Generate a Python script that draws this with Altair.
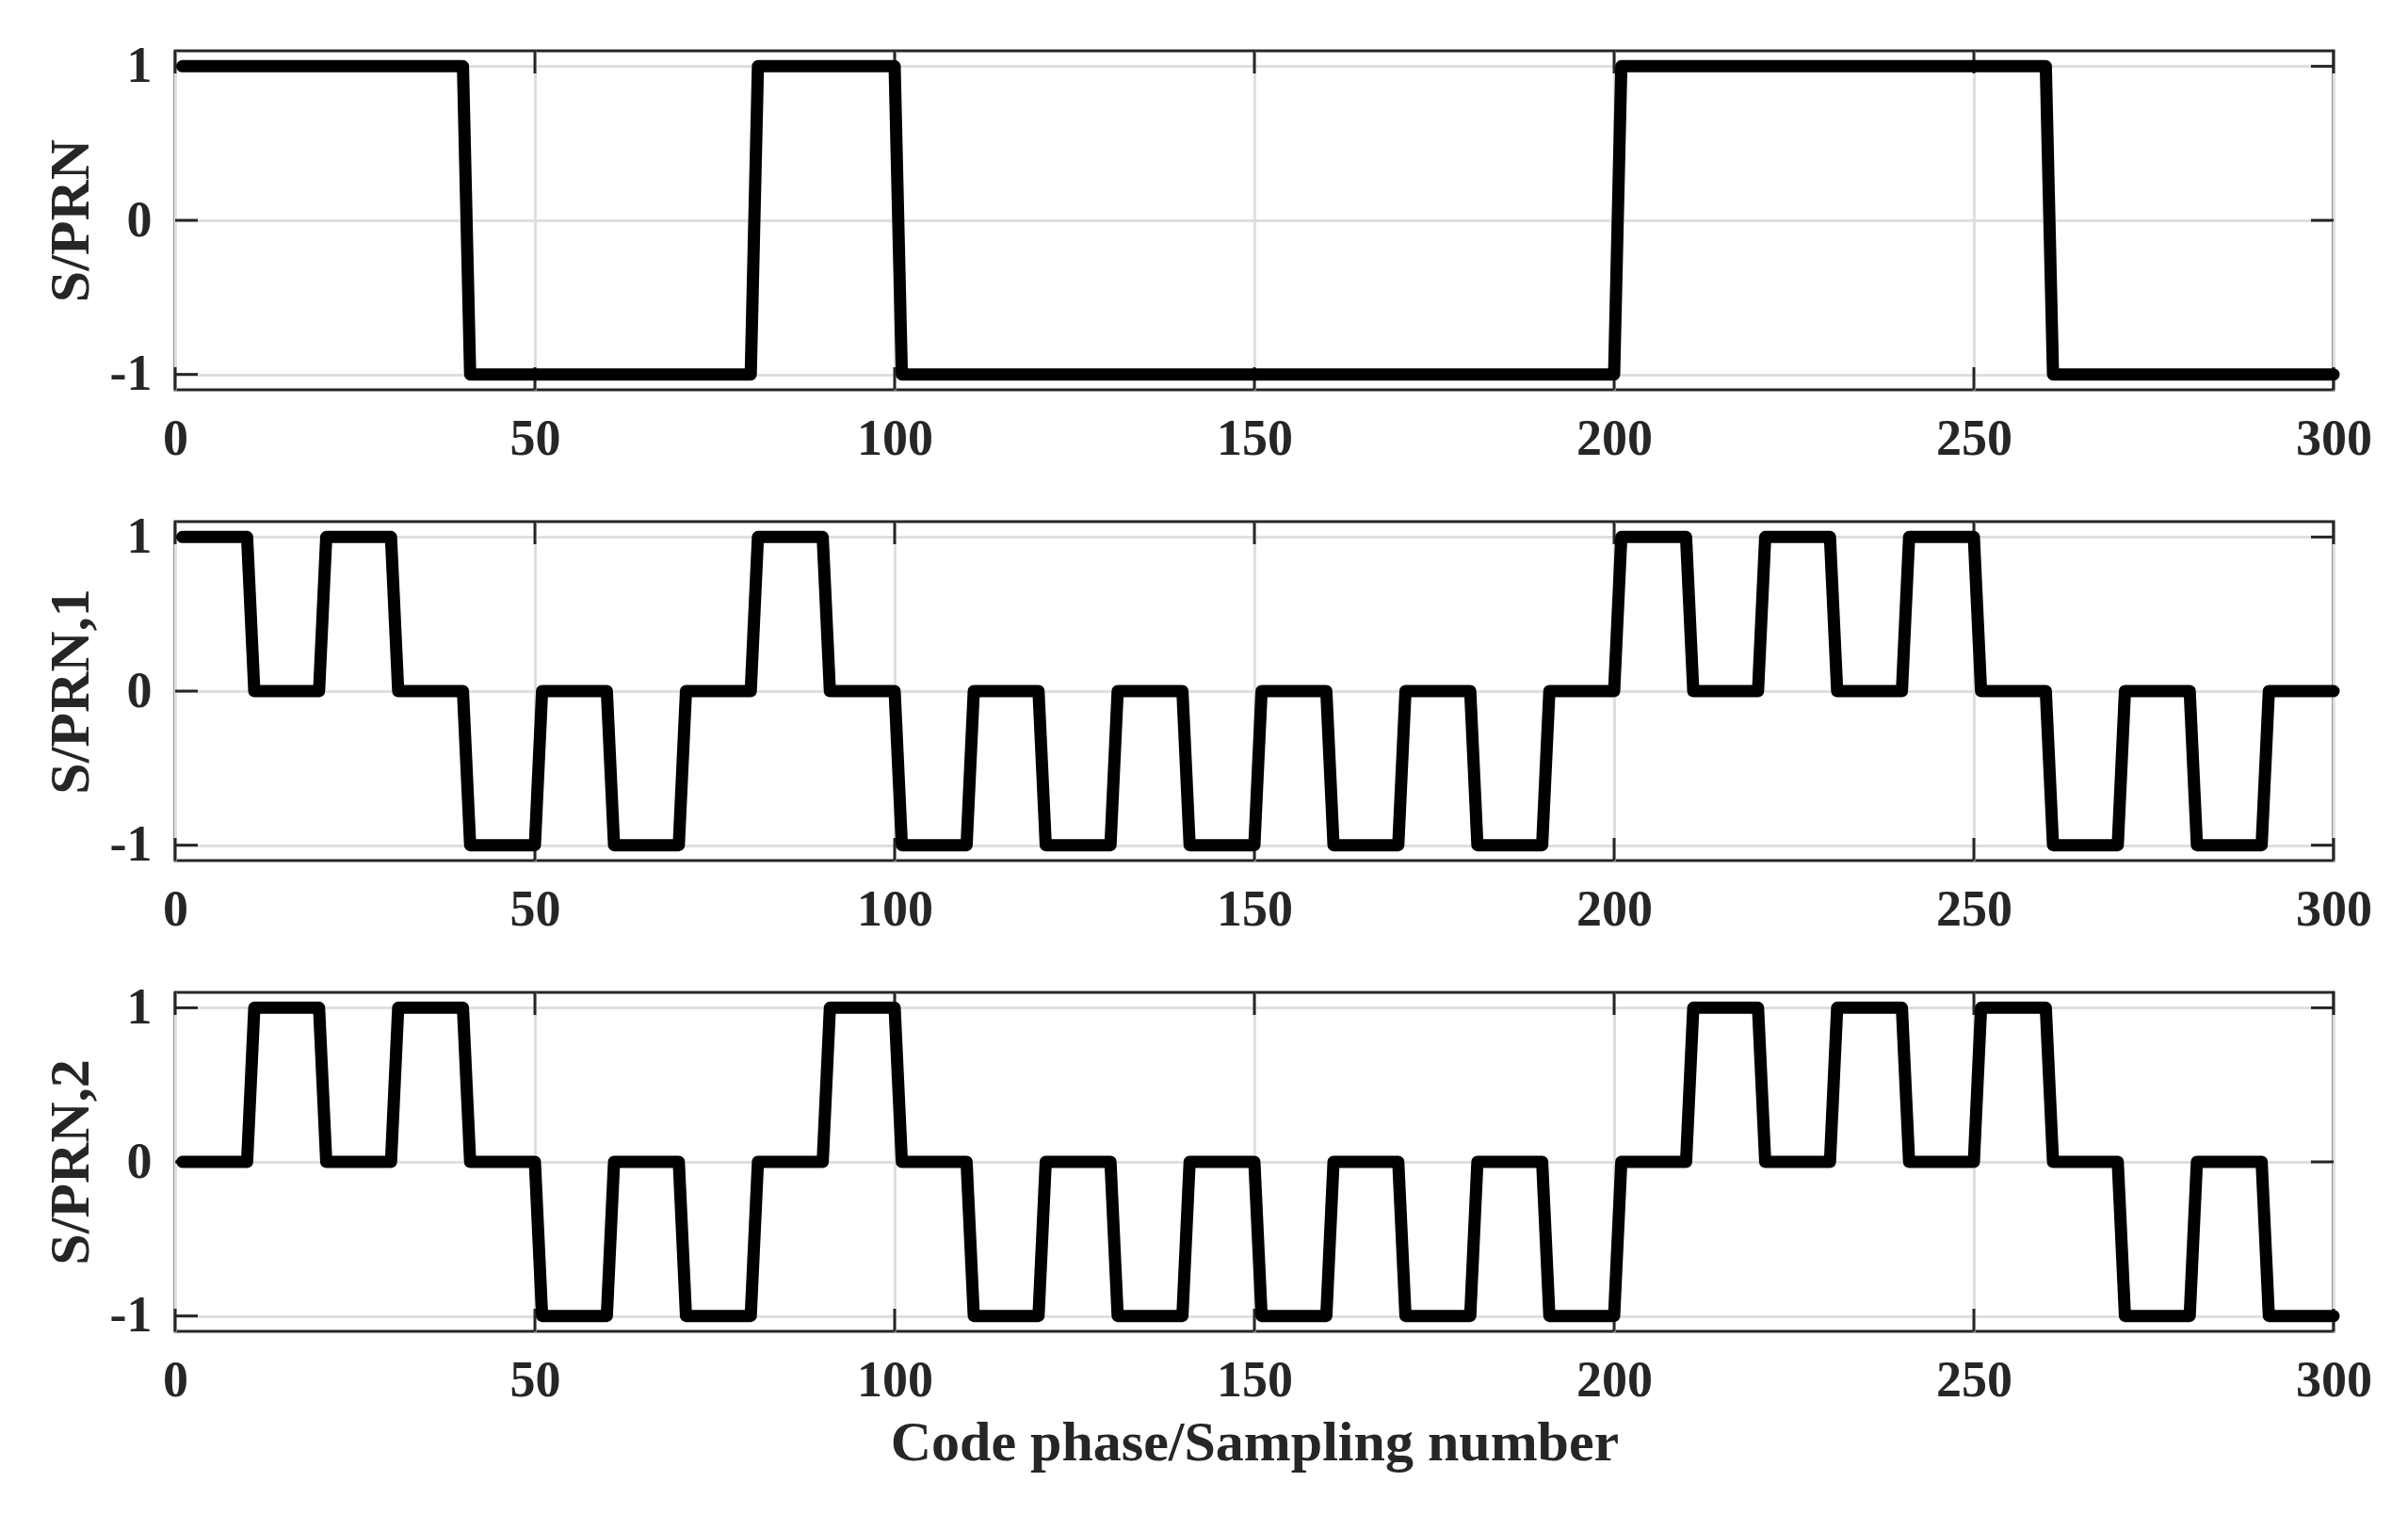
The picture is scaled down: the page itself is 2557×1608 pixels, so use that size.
import altair as alt
import pandas as pd

# chip values (each chip spans 10 samples, samples numbered 1..300)
chips_prn = [1, 1, 1, 1, -1, -1, -1, -1, 1, 1,
             -1, -1, -1, -1, -1, -1, -1, -1, -1, -1,
             1, 1, 1, 1, 1, 1, -1, -1, -1, -1]
chips_prn1 = [1, 0, 1, 0, -1, 0, -1, 0, 1, 0,
              -1, 0, -1, 0, -1, 0, -1, 0, -1, 0,
              1, 0, 1, 0, 1, 0, -1, 0, -1, 0]
chips_prn2 = [0, 1, 0, 1, 0, -1, 0, -1, 0, 1,
              0, -1, 0, -1, 0, -1, 0, -1, 0, -1,
              0, 1, 0, 1, 0, 1, 0, -1, 0, -1]
samples_per_chip = 10

x_ticks = [0, 50, 100, 150, 200, 250, 300]
y_ticks = [-1, 0, 1]
y_titles = ["S/PRN", "S/PRN,1", "S/PRN,2"]
x_title = "Code phase/Sampling number"

W, H = 2292, 360
TICK = 24
FONT = "Liberation Serif"
TXT = "#262626"


def expand(chips):
    xs, ys = [], []
    for k, v in enumerate(chips):
        for j in range(samples_per_chip):
            xs.append(k * samples_per_chip + j + 1)
            ys.append(v)
    return pd.DataFrame({"x": xs, "y": ys})


xt = pd.DataFrame({"x": x_ticks})
yt = pd.DataFrame({"y": y_ticks})


def panel(chips, ytitle, show_xtitle):
    xscale = alt.Scale(domain=[0, 300], nice=False, zero=False)
    yscale = alt.Scale(domain=[-1.1, 1.1], nice=False, zero=False)
    xaxis_kw = dict(values=x_ticks, labelPadding=25, grid=True, labelFlush=False)
    if show_xtitle:
        xaxis_kw["title"] = x_title
    xaxis = alt.Axis(**xaxis_kw)
    yaxis = alt.Axis(values=y_ticks, labelPadding=25, grid=True, title=ytitle,
                     labelExpr="'' + datum.value", labelFlush=False)
    xt_title = x_title if show_xtitle else None

    def X(f):
        return alt.X(f, scale=xscale, axis=xaxis, title=xt_title)

    def Y(f):
        return alt.Y(f, scale=yscale, axis=yaxis, title=ytitle)

    tick_style = dict(color=TXT, strokeWidth=3)
    xb = alt.Chart(xt).mark_rule(**tick_style).encode(
        x=X("x:Q"), y=alt.value(H - TICK), y2=alt.value(H))
    xtop = alt.Chart(xt).mark_rule(**tick_style).encode(
        x=X("x:Q"), y=alt.value(0), y2=alt.value(TICK))
    yl = alt.Chart(yt).mark_rule(**tick_style).encode(
        y=Y("y:Q"), x=alt.value(0), x2=alt.value(TICK))
    yr = alt.Chart(yt).mark_rule(**tick_style).encode(
        y=Y("y:Q"), x=alt.value(W - TICK), x2=alt.value(W))
    line = alt.Chart(expand(chips)).mark_line(
        color="black", strokeWidth=13, strokeJoin="round", strokeCap="round"
    ).encode(x=X("x:Q"), y=Y("y:Q"))
    return alt.layer(xb, xtop, yl, yr, line).properties(width=W, height=H)


chart = alt.vconcat(
    panel(chips_prn, y_titles[0], False),
    panel(chips_prn1, y_titles[1], False),
    panel(chips_prn2, y_titles[2], True),
    spacing=140,
    bounds="flush",
).properties(
    padding={"left": 35, "top": 33, "right": 20, "bottom": 20}
).configure_view(
    stroke=TXT, strokeWidth=3
).configure_axis(
    domain=False, ticks=False, tickSize=0,
    gridColor="#dfdfdf", gridWidth=3,
    labelFont=FONT, labelFontWeight="bold", labelFontSize=54, labelColor=TXT,
    titleFont=FONT, titleFontWeight="bold", titleFontSize=60, titleColor=TXT,
    titlePadding=10,
)

chart.save("out.html", embed_options={"renderer": "svg", "actions": False})
